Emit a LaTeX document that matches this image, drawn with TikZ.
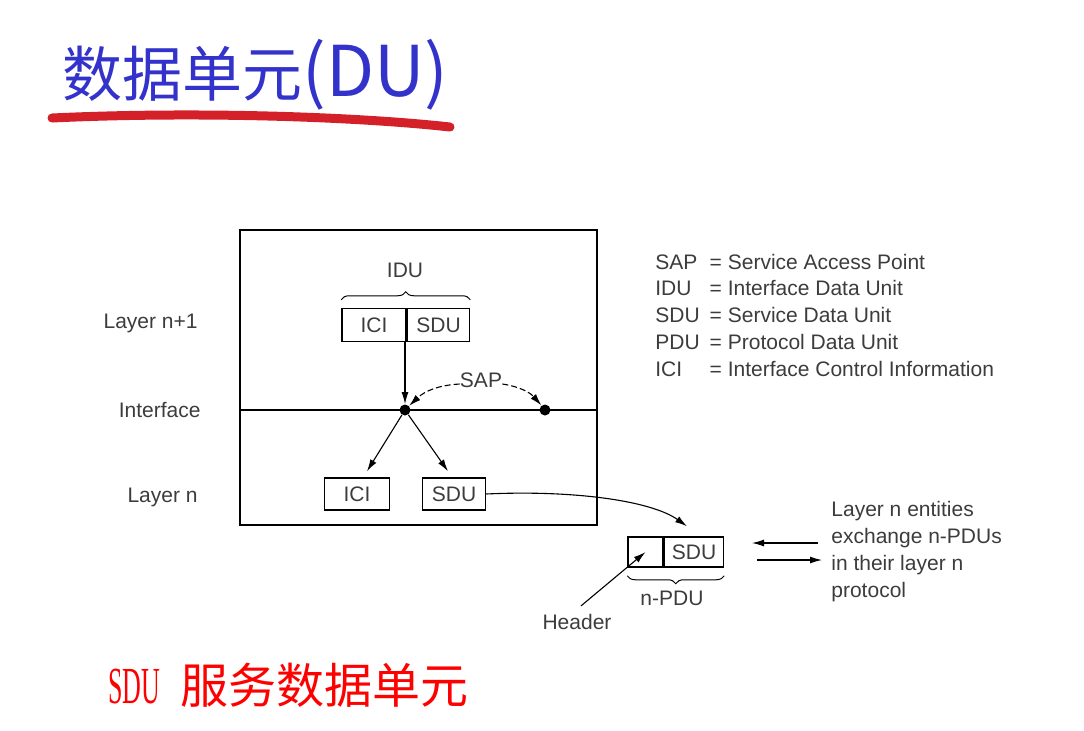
\documentclass[tikz,border=0pt]{standalone}
\usepackage{fontspec}
\setmainfont{Liberation Sans}
\newfontfamily\cjk{Noto Sans CJK SC}
\newfontfamily\tserif{Liberation Serif}
\usepackage{graphicx}
\usetikzlibrary{positioning}
\usetikzlibrary{arrows.meta}
\usetikzlibrary{decorations.pathreplacing}
\definecolor{titleblue}{RGB}{51,51,204}
\definecolor{markred}{RGB}{212,32,40}
\definecolor{txtgray}{RGB}{60,60,60}

\begin{document}
\begin{tikzpicture}[x=0.5pt,y=-0.5pt,
    lbl/.style={text=txtgray,font=\fontsize{10.5}{13}\selectfont,inner sep=0pt},
    cell/.style={draw,line width=0.75pt,minimum height=16.5pt,lbl},
    ar/.style={-{Latex[length=6pt,width=3.5pt]},line width=0.55pt},
    sapar/.style={ar,dash pattern=on 3pt off 1.5pt},
    sapdot/.style={circle,fill,inner sep=0pt,minimum size=5.5pt},
    brc/.style={decorate,decoration={brace,amplitude=4pt},line width=0.5pt}]

  % ここまでをバウンディングボックス内とする
  \useasboundingbox (0,0) rectangle (1084,730);

  % 見出し
  \node[anchor=base west,inner sep=0pt,text=titleblue] (title) at (62,96)
    {\cjk\fontsize{30}{30}\selectfont 数据单元\fontsize{35}{35}\selectfont(DU)};
  \draw[markred,line width=4.5pt,line cap=round]
    (52,118) .. controls (200,111) and (360,117) .. (450,127);

  % 外枠と層の境界
  \node[draw,line width=1pt,inner sep=0pt,%
    minimum width=178.5pt,minimum height=147.5pt] (frame) at (418.5,377.5) {};
  \node[sapdot] (dotL) at (405,410) {};
  \node[sapdot] (dotR) at (545,410) {};
  \draw[line width=0.75pt] (frame.west |- dotL) -- (frame.east |- dotL);

  % 層の名前
  \node[lbl,anchor=east] (lnp) at (198,323) {Layer n+1};
  \node[lbl,anchor=east] (lif) at (201,410) {Interface};
  \node[lbl,anchor=east] (ln) at (198,497) {Layer n};

  % IDU
  \node[cell,minimum width=32pt] (iciU) at (374,325) {ICI};
  \node[cell,minimum width=31pt,right=0pt of iciU] (sduU) {SDU};
  \draw[brc] ([yshift=4pt]iciU.north west) -- ([yshift=4pt]sduU.north east);
  \node[lbl] (idu) at (405,270) {IDU};
  \draw[ar] (dotL |- iciU.south) -- (dotL);

  % 層n
  \node[cell,minimum width=32.5pt,minimum height=16pt] (iciL) at (357,494) {ICI};
  \node[cell,minimum width=31.5pt,minimum height=16pt] (sduL) at (454,494) {SDU};
  \draw[ar] (dotL) -- ([xshift=5pt,yshift=3pt]iciL.north);
  \draw[ar] (dotL) -- ([xshift=-3pt,yshift=3pt]sduL.north);

  % SAP
  \node[lbl] (sap) at (481,380) {SAP};
  \draw[sapar] ([yshift=-2pt]sap.west) to[bend right=20] (dotL);
  \draw[sapar] ([yshift=-2pt]sap.east) to[bend left=20] (dotR);

  % n-PDU
  \node[cell,minimum width=17.5pt,minimum height=15pt] (hdr) at (645.5,552) {};
  \node[cell,minimum width=29.5pt,minimum height=15pt,right=0pt of hdr] (sduP) {SDU};
  \draw[brc] ([yshift=-4pt]sduP.south east) -- ([yshift=-4pt]hdr.south west);
  \node[lbl] (npdu) at (672,598) {n-PDU};
  \node[lbl] (header) at (577,622) {Header};
  \draw[ar] ([xshift=2pt,yshift=4pt]header.north) -- (hdr.center);
  \draw[ar] (sduL.east) .. controls (570,490) and (650,500) ..
    ([xshift=-3.5pt,yshift=5pt]sduP.north);

  % 右側の説明
  \node[lbl,anchor=north west,align=left,%
    font=\fontsize{10.5}{13.5}\selectfont] (expl) at (831,501)
    {Layer n entities\\exchange n-PDUs\\in their layer n\\protocol};
  \coordinate (rcvA) at (818,543);
  \coordinate (rcvB) at (752,543);
  \coordinate (sndA) at (757,560);
  \coordinate (sndB) at (822,560);
  \draw[ar] (rcvA) -- (rcvB);
  \draw[ar] (sndA) -- (sndB);

  % 凡例
  \node[lbl,anchor=north west] (legend) at (655,250){%
    \fontsize{10.5}{13.4}\selectfont
    \begin{tabular}{@{}l@{\hspace{5pt}}l@{}}
      SAP & = Service Access Point \\
      IDU & = Interface Data Unit \\
      SDU & = Service Data Unit \\
      PDU & = Protocol Data Unit \\
      ICI & = Interface Control Information
    \end{tabular}};

  % 下の注記
  \node[anchor=base west,inner sep=0pt,text=red] (note) at (108,703)
    {\tserif\fontsize{26}{26}\selectfont\scalebox{0.5}[1]{SDU}\hspace{10pt}%
     \cjk\fontsize{24}{24}\selectfont 服务数据单元};
\end{tikzpicture}
\end{document}
